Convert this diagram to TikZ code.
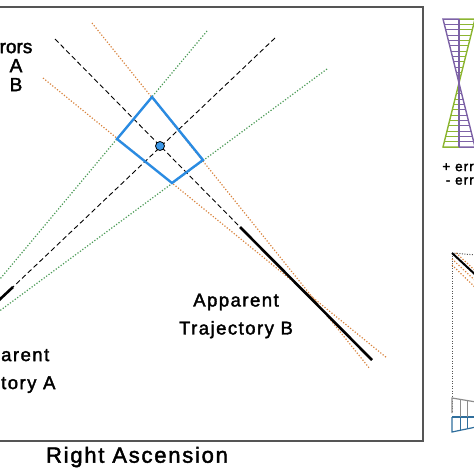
\documentclass[tikz,border=0pt]{standalone}
\usepackage{fontspec}
\setmainfont{Liberation Sans}[FakeBold=2]
\newfontfamily\spacedfont[LetterSpace=8, FakeBold=2]{Liberation Sans}
\usetikzlibrary{positioning}

\definecolor{errorange}{HTML}{D9843F}
\definecolor{errgreen}{HTML}{4A9A55}
\definecolor{overlapblue}{HTML}{2A8BE2}
\definecolor{fixblue}{HTML}{3C98E8}
\definecolor{framegray}{HTML}{555555}
\definecolor{errpurple}{HTML}{7D62A6}
\definecolor{errlime}{HTML}{8CB531}
\definecolor{hatchgray}{HTML}{8C8C8C}
\definecolor{hatchblue}{HTML}{2F6E9C}

\tikzset{
  track/.style={line width=2.6pt, black},
  guide/.style={line width=0.9pt, black, dash pattern=on 5pt off 3pt},
  errB/.style={line width=1.2pt, errorange, dash pattern=on 1.2pt off 1.8pt},
  errA/.style={line width=1.2pt, errgreen, dash pattern=on 1.2pt off 1.8pt},
  overlap/.style={line width=2.4pt, overlapblue, line join=miter},
  frame/.style={line width=1.5pt, framegray},
  bigtext/.style={font=\spacedfont\fontsize{18.5}{28}\selectfont, inner sep=0pt}
}

\begin{document}
\begin{tikzpicture}[x=1pt, y=-1pt]
  \useasboundingbox (0,0) rectangle (474,474);
  \clip (0,0) rectangle (474,474);

  % end points of the two trajectories
  \coordinate (guideB) at (55,39);
  \coordinate (startB) at (240,227);
  \coordinate (endB) at (372,360);
  \coordinate (guideA) at (275,38);
  \coordinate (startA) at (13,287);
  \coordinate (endA) at (-20,318);

  % corners of the overlap region
  \coordinate (qtop) at (152,97);
  \coordinate (qright) at (203,160);
  \coordinate (qbottom) at (172,183);
  \coordinate (qleft) at (117,139);

  % error lines, B (orange) and A (green)
  \coordinate (oa1) at (92,23);   \coordinate (ob1) at (370,369);
  \coordinate (oa2) at (43,78);   \coordinate (ob2) at (387,358);
  \coordinate (ga1) at (207,31);  \coordinate (gb1) at (-10,291);
  \coordinate (ga2) at (327,69);  \coordinate (gb2) at (-10,318);

  \draw[errB] (oa1) -- (ob1);
  \draw[errB] (oa2) -- (ob2);
  \draw[errA] (ga1) -- (gb1);
  \draw[errA] (ga2) -- (gb2);

  \draw[guide] (guideB) -- (startB);
  \draw[track] (startB) -- (endB);
  \draw[guide] (guideA) -- (startA);
  \draw[track] (startA) -- (endA);

  \draw[overlap] (qtop) -- (qright) -- (qbottom) -- (qleft) -- cycle;
  \node[circle, draw, line width=0.8pt, fill=fixblue, inner sep=0pt, minimum size=9pt] (fix) at (160,146) {};

  % main frame
  \draw[frame] (-10,7) -- (423,7) -- (423,441) -- (-10,441);

  \node[font=\fontsize{19}{19}\selectfont, align=center, inner sep=0pt] (legend) at (16,67) {rors\\A\\B};
  \node[bigtext, align=center] (labelB) at (236,316) {Apparent\\Trajectory B};
  \node[bigtext, align=left, anchor=west] (labelA) at (1,371) {arent\\tory A};
  \node[font=\spacedfont\fontsize{22}{26}\selectfont, inner sep=0pt] (axisRA) at (137,457) {Right Ascension};

  % side panel: error wedges
  \foreach \k in {0,...,24} {
    \pgfmathsetmacro\yy{19+\k*128/24}
    \draw[errlime, line width=0.8pt] ({475-0.25*(\yy-19)},\yy) -- (459,\yy);
    \draw[errpurple, line width=0.8pt] ({443+0.25*(\yy-19)},\yy) -- (459,\yy);
  }
  \draw[errlime, line width=1.4pt] (459,19) -- (475,19) -- (443,147) -- (459,147);
  \draw[errpurple, line width=1.4pt] (459,19) -- (443,19) -- (475,147) -- (459,147);
  \draw[errpurple, line width=1.4pt] (459,19) -- (459,147);
  \node[font=\spacedfont\fontsize{13.5}{13.5}\selectfont, align=right, inner sep=0pt, anchor=east] (signs) at (474,174) {+ err\\- err};

  % side panel: lower sketch
  \coordinate (pa) at (452,253);
  \coordinate (pb) at (452,413);
  \draw[framegray, line width=1pt, dash pattern=on 1pt off 1.5pt] (pa) -- (pb);
  \draw[framegray, line width=1pt, dash pattern=on 1pt off 1.5pt] (pa) -- (476,255);
  \draw[errB] (452,259) -- (480,285);
  \draw[errB] (452,265) -- (480,292);
  \draw[errB] (456,253) -- (480,275);
  \draw[line width=2pt, black] (pa) -- (480,279);
  \draw[hatchgray, line width=1.2pt] (452,413) -- (452,398) -- (476,402);
  \draw[hatchblue, line width=1.2pt] (452,417) -- (476,417);
  \draw[hatchblue, line width=1.2pt] (452,417) -- (452,432) -- (476,427);
  \foreach \xx in {460,467,474} {
    \draw[hatchgray, line width=1pt] (\xx,{398+4*(\xx-452)/24}) -- (\xx,417);
    \draw[hatchblue, line width=1pt] (\xx,417) -- (\xx,{432-5*(\xx-452)/24});
  }
\end{tikzpicture}
\end{document}
